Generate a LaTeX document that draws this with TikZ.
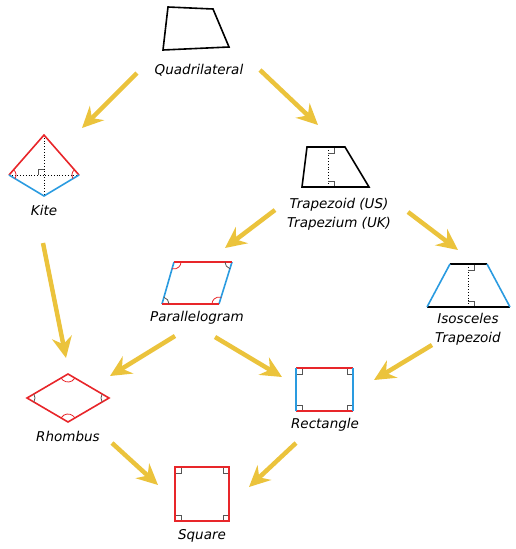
\documentclass[tikz,border=0pt]{standalone}
\usepackage{fontspec}
\setmainfont{DejaVu Sans}
\usepackage{xcolor}
\usepackage{tikz}
\usetikzlibrary{arrows.meta}

\definecolor{edgered}{HTML}{E8262A}
\definecolor{edgeblue}{HTML}{2A9BE0}
\definecolor{arrowgold}{HTML}{EBC33C}
\definecolor{markgray}{HTML}{555555}

\begin{document}
\begin{tikzpicture}[x=1pt,y=1pt,
  edge/.style={line width=1.6pt, line join=miter},
  redge/.style={edge, edgered},
  bedge/.style={edge, edgeblue},
  kedge/.style={edge, black},
  dotline/.style={black, line width=0.8pt, dotted},
  rmark/.style={markgray, line width=0.9pt},
  bigarc/.style={edgered, line width=0.8pt},
  smallarc/.style={markgray, line width=0.8pt},
  flow/.style={arrowgold, line width=4.5pt, -{Stealth[length=21pt,width=20pt,inset=7pt]}},
  lbl/.style={font=\fontsize{13.5}{19}\selectfont\itshape, align=center, inner sep=0pt}]
\useasboundingbox (0,0) rectangle (516,-549);

% quadrilateral
\draw [kedge] (168,-7) -- (213,-9) -- (229,-47) -- (163,-50) -- cycle;
\node [lbl] (quad) at (199,-70) {Quadrilateral};

% kite
\draw [dotline] (9,-175) -- (79,-175);
\draw [dotline] (44,-135) -- (44,-196);
\draw [rmark] (44,-169) -- (38,-169) -- (38,-175);
\draw [redge] (9,-175) -- (44,-135) -- (79,-175);
\draw [bedge] (9,-175) -- (44,-196) -- (79,-175);
\draw [bigarc] (9,-175) ++(-31:7) arc (-31:48.8:7);
\draw [bigarc] (79,-175) ++(131.2:7) arc (131.2:211:7);
\node [lbl] (kite) at (44,-210) {Kite};

% trapezoid
\draw [dotline] (328,-147) -- (328,-187);
\draw [rmark] (328,-153) -- (334,-153) -- (334,-147);
\draw [rmark] (328,-181) -- (334,-181) -- (334,-187);
\draw [kedge] (307,-147) -- (345,-147) -- (369,-187) -- (302,-187) -- cycle;
\node [lbl] (trap) at (339,-214) {Trapezoid (US)\\Trapezium (UK)};

% parallelogram
\draw [bedge] (174,-262) -- (162,-304);
\draw [bedge] (232,-262) -- (219,-304);
\draw [redge] (174,-262) -- (232,-262);
\draw [redge] (162,-304) -- (219,-304);
\draw [bigarc] (174,-262) ++(-106:7) arc (-106:0:7);
\draw [smallarc] (232,-262) ++(180:7) arc (180:253:7);
\draw [bigarc] (219,-304) ++(73:7) arc (73:180:7);
\draw [smallarc] (162,-304) ++(0:7) arc (0:74:7);
\node [lbl] (para) at (197,-318) {Parallelogram};

% isosceles trapezoid
\draw [dotline] (468,-264) -- (468,-307);
\draw [rmark] (468,-270) -- (474,-270) -- (474,-264);
\draw [rmark] (468,-301) -- (474,-301) -- (474,-307);
\draw [kedge] (450,-264) -- (487,-264);
\draw [kedge] (427,-307) -- (510,-307);
\draw [bedge] (450,-264) -- (427,-307);
\draw [bedge] (487,-264) -- (510,-307);
\node [lbl] (isos) at (468,-329) {Isosceles\\Trapezoid};

% rhombus
\draw [redge] (68,-374) -- (109,-398) -- (68,-422) -- (27,-398) -- cycle;
\draw [bigarc] (68,-374) ++(210.3:8) arc (210.3:329.7:8);
\draw [bigarc] (68,-422) ++(30.3:8) arc (30.3:149.7:8);
\draw [smallarc] (27,-398) ++(-30.3:8) arc (-30.3:30.3:8);
\draw [smallarc] (109,-398) ++(149.7:8) arc (149.7:210.3:8);
\node [lbl] (rhom) at (68,-436) {Rhombus};

% rectangle
\draw [rmark] (296,-374) -- (302,-374) -- (302,-368);
\draw [rmark] (353,-374) -- (347,-374) -- (347,-368);
\draw [rmark] (296,-405) -- (302,-405) -- (302,-411);
\draw [rmark] (353,-405) -- (347,-405) -- (347,-411);
\draw [redge] (296,-368) -- (353,-368);
\draw [redge] (296,-411) -- (353,-411);
\draw [bedge] (296,-368) -- (296,-411);
\draw [bedge] (353,-368) -- (353,-411);
\node [lbl] (rect) at (325,-425) {Rectangle};

% square
\draw [rmark] (175,-473) -- (181,-473) -- (181,-467);
\draw [rmark] (229,-473) -- (223,-473) -- (223,-467);
\draw [rmark] (175,-515) -- (181,-515) -- (181,-521);
\draw [rmark] (229,-515) -- (223,-515) -- (223,-521);
\draw [redge] (175,-467) rectangle (229,-521);
\node [lbl] (squa) at (202,-536) {Square};

% arrow ends
\coordinate (quad-l) at (137,-73);   \coordinate (kite-in) at (82,-128);
\coordinate (quad-r) at (260,-70);   \coordinate (trap-in) at (318,-125);
\coordinate (kite-out) at (43,-243); \coordinate (rhom-in-a) at (66,-358);
\coordinate (trap-l) at (275,-210);  \coordinate (para-in) at (225,-248);
\coordinate (trap-r) at (408,-212);  \coordinate (isos-in) at (458,-250);
\coordinate (para-l) at (175,-336);  \coordinate (rhom-in-b) at (110,-376);
\coordinate (para-r) at (215,-337);  \coordinate (rect-in-a) at (282,-377);
\coordinate (isos-out) at (432,-345); \coordinate (rect-in-b) at (374,-380);
\coordinate (rhom-out) at (112,-443); \coordinate (squa-in-a) at (158,-485);
\coordinate (rect-out) at (296,-443); \coordinate (squa-in-b) at (249,-487);

\draw [flow] (quad-l) -- (kite-in);
\draw [flow] (quad-r) -- (trap-in);
\draw [flow] (kite-out) -- (rhom-in-a);
\draw [flow] (trap-l) -- (para-in);
\draw [flow] (trap-r) -- (isos-in);
\draw [flow] (para-l) -- (rhom-in-b);
\draw [flow] (para-r) -- (rect-in-a);
\draw [flow] (isos-out) -- (rect-in-b);
\draw [flow] (rhom-out) -- (squa-in-a);
\draw [flow] (rect-out) -- (squa-in-b);
\end{tikzpicture}
\end{document}
